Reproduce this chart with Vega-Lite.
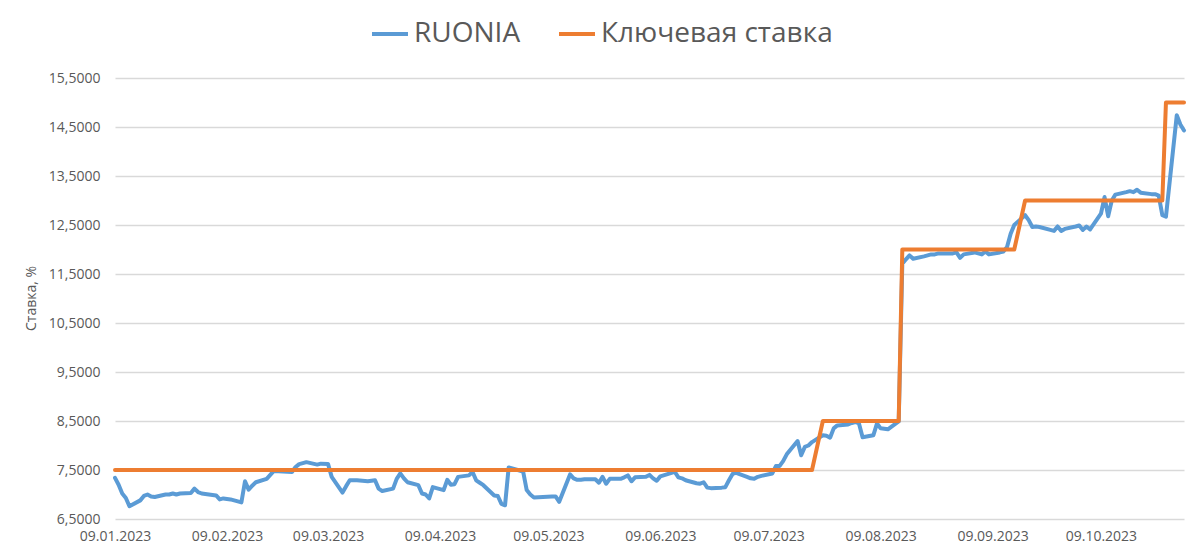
{
  "$schema": "https://vega.github.io/schema/vega-lite/v6.json",
  "width": 1069,
  "height": 441,
  "autosize": {"type": "none"},
  "padding": {"left": 115, "top": 78, "right": 16, "bottom": 38},
  "background": "white",
  "config": {
    "view": {"stroke": null},
    "font": "Open Sans"
  },
  "datasets": {
    "ruonia": [
      {"date": "2023-01-09", "value": 7.34}, {"date": "2023-01-10", "value": 7.2}, {"date": "2023-01-11", "value": 7.02},
      {"date": "2023-01-12", "value": 6.93}, {"date": "2023-01-13", "value": 6.76}, {"date": "2023-01-16", "value": 6.88},
      {"date": "2023-01-17", "value": 6.97}, {"date": "2023-01-18", "value": 7.0}, {"date": "2023-01-19", "value": 6.96},
      {"date": "2023-01-20", "value": 6.95}, {"date": "2023-01-23", "value": 7.0}, {"date": "2023-01-24", "value": 7.0},
      {"date": "2023-01-25", "value": 7.02}, {"date": "2023-01-26", "value": 7.0}, {"date": "2023-01-27", "value": 7.02},
      {"date": "2023-01-30", "value": 7.03}, {"date": "2023-01-31", "value": 7.12}, {"date": "2023-02-01", "value": 7.05},
      {"date": "2023-02-02", "value": 7.02}, {"date": "2023-02-03", "value": 7.01}, {"date": "2023-02-06", "value": 6.98},
      {"date": "2023-02-07", "value": 6.9}, {"date": "2023-02-08", "value": 6.92}, {"date": "2023-02-09", "value": 6.91},
      {"date": "2023-02-10", "value": 6.9}, {"date": "2023-02-13", "value": 6.84}, {"date": "2023-02-14", "value": 7.27},
      {"date": "2023-02-15", "value": 7.1}, {"date": "2023-02-16", "value": 7.18}, {"date": "2023-02-17", "value": 7.25},
      {"date": "2023-02-20", "value": 7.32}, {"date": "2023-02-21", "value": 7.4}, {"date": "2023-02-22", "value": 7.48},
      {"date": "2023-02-27", "value": 7.46}, {"date": "2023-02-28", "value": 7.56}, {"date": "2023-03-01", "value": 7.62},
      {"date": "2023-03-02", "value": 7.64}, {"date": "2023-03-03", "value": 7.66}, {"date": "2023-03-06", "value": 7.61},
      {"date": "2023-03-07", "value": 7.63}, {"date": "2023-03-09", "value": 7.62}, {"date": "2023-03-10", "value": 7.36},
      {"date": "2023-03-13", "value": 7.04}, {"date": "2023-03-14", "value": 7.17}, {"date": "2023-03-15", "value": 7.29},
      {"date": "2023-03-16", "value": 7.29}, {"date": "2023-03-17", "value": 7.29}, {"date": "2023-03-20", "value": 7.27},
      {"date": "2023-03-21", "value": 7.28}, {"date": "2023-03-22", "value": 7.29}, {"date": "2023-03-23", "value": 7.12},
      {"date": "2023-03-24", "value": 7.07}, {"date": "2023-03-27", "value": 7.12}, {"date": "2023-03-28", "value": 7.32},
      {"date": "2023-03-29", "value": 7.43}, {"date": "2023-03-30", "value": 7.33}, {"date": "2023-03-31", "value": 7.25},
      {"date": "2023-04-03", "value": 7.19}, {"date": "2023-04-04", "value": 7.02}, {"date": "2023-04-05", "value": 7.0},
      {"date": "2023-04-06", "value": 6.92}, {"date": "2023-04-07", "value": 7.15}, {"date": "2023-04-10", "value": 7.09},
      {"date": "2023-04-11", "value": 7.3}, {"date": "2023-04-12", "value": 7.2}, {"date": "2023-04-13", "value": 7.21},
      {"date": "2023-04-14", "value": 7.36}, {"date": "2023-04-17", "value": 7.39}, {"date": "2023-04-18", "value": 7.46},
      {"date": "2023-04-19", "value": 7.29}, {"date": "2023-04-20", "value": 7.24}, {"date": "2023-04-21", "value": 7.19},
      {"date": "2023-04-24", "value": 6.98}, {"date": "2023-04-25", "value": 6.97}, {"date": "2023-04-26", "value": 6.81},
      {"date": "2023-04-27", "value": 6.78}, {"date": "2023-04-28", "value": 7.55}, {"date": "2023-05-02", "value": 7.47},
      {"date": "2023-05-03", "value": 7.09}, {"date": "2023-05-04", "value": 7.0}, {"date": "2023-05-05", "value": 6.94},
      {"date": "2023-05-10", "value": 6.96}, {"date": "2023-05-11", "value": 6.96}, {"date": "2023-05-12", "value": 6.85},
      {"date": "2023-05-15", "value": 7.41}, {"date": "2023-05-16", "value": 7.33}, {"date": "2023-05-17", "value": 7.3},
      {"date": "2023-05-18", "value": 7.3}, {"date": "2023-05-19", "value": 7.31}, {"date": "2023-05-22", "value": 7.31},
      {"date": "2023-05-23", "value": 7.24}, {"date": "2023-05-24", "value": 7.36}, {"date": "2023-05-25", "value": 7.22},
      {"date": "2023-05-26", "value": 7.32}, {"date": "2023-05-29", "value": 7.32}, {"date": "2023-05-30", "value": 7.35},
      {"date": "2023-05-31", "value": 7.39}, {"date": "2023-06-01", "value": 7.27}, {"date": "2023-06-02", "value": 7.35},
      {"date": "2023-06-05", "value": 7.36}, {"date": "2023-06-06", "value": 7.4}, {"date": "2023-06-07", "value": 7.33},
      {"date": "2023-06-08", "value": 7.28}, {"date": "2023-06-09", "value": 7.37}, {"date": "2023-06-13", "value": 7.46},
      {"date": "2023-06-14", "value": 7.35}, {"date": "2023-06-15", "value": 7.33}, {"date": "2023-06-16", "value": 7.29},
      {"date": "2023-06-19", "value": 7.23}, {"date": "2023-06-20", "value": 7.22}, {"date": "2023-06-21", "value": 7.25},
      {"date": "2023-06-22", "value": 7.14}, {"date": "2023-06-23", "value": 7.13}, {"date": "2023-06-26", "value": 7.14},
      {"date": "2023-06-27", "value": 7.15}, {"date": "2023-06-28", "value": 7.29}, {"date": "2023-06-29", "value": 7.42},
      {"date": "2023-06-30", "value": 7.44}, {"date": "2023-07-03", "value": 7.36}, {"date": "2023-07-04", "value": 7.33},
      {"date": "2023-07-05", "value": 7.32}, {"date": "2023-07-06", "value": 7.36}, {"date": "2023-07-07", "value": 7.38},
      {"date": "2023-07-10", "value": 7.43}, {"date": "2023-07-11", "value": 7.58}, {"date": "2023-07-12", "value": 7.58},
      {"date": "2023-07-13", "value": 7.68}, {"date": "2023-07-14", "value": 7.82}, {"date": "2023-07-17", "value": 8.09},
      {"date": "2023-07-18", "value": 7.8}, {"date": "2023-07-19", "value": 7.97}, {"date": "2023-07-20", "value": 8.0},
      {"date": "2023-07-21", "value": 8.07}, {"date": "2023-07-24", "value": 8.21}, {"date": "2023-07-25", "value": 8.2},
      {"date": "2023-07-26", "value": 8.16}, {"date": "2023-07-27", "value": 8.35}, {"date": "2023-07-28", "value": 8.41},
      {"date": "2023-07-31", "value": 8.43}, {"date": "2023-08-01", "value": 8.46}, {"date": "2023-08-02", "value": 8.48},
      {"date": "2023-08-03", "value": 8.45}, {"date": "2023-08-04", "value": 8.17}, {"date": "2023-08-07", "value": 8.21},
      {"date": "2023-08-08", "value": 8.45}, {"date": "2023-08-09", "value": 8.35}, {"date": "2023-08-10", "value": 8.34},
      {"date": "2023-08-11", "value": 8.33}, {"date": "2023-08-14", "value": 8.49}, {"date": "2023-08-15", "value": 11.71},
      {"date": "2023-08-16", "value": 11.8}, {"date": "2023-08-17", "value": 11.88}, {"date": "2023-08-18", "value": 11.81},
      {"date": "2023-08-21", "value": 11.86}, {"date": "2023-08-22", "value": 11.88}, {"date": "2023-08-23", "value": 11.9},
      {"date": "2023-08-24", "value": 11.9}, {"date": "2023-08-25", "value": 11.92}, {"date": "2023-08-28", "value": 11.92},
      {"date": "2023-08-29", "value": 11.92}, {"date": "2023-08-30", "value": 11.94}, {"date": "2023-08-31", "value": 11.83},
      {"date": "2023-09-01", "value": 11.9}, {"date": "2023-09-04", "value": 11.94}, {"date": "2023-09-05", "value": 11.92},
      {"date": "2023-09-06", "value": 11.9}, {"date": "2023-09-07", "value": 11.96}, {"date": "2023-09-08", "value": 11.9},
      {"date": "2023-09-11", "value": 11.94}, {"date": "2023-09-12", "value": 11.96}, {"date": "2023-09-13", "value": 12.05},
      {"date": "2023-09-14", "value": 12.32}, {"date": "2023-09-15", "value": 12.5}, {"date": "2023-09-18", "value": 12.7},
      {"date": "2023-09-19", "value": 12.6}, {"date": "2023-09-20", "value": 12.46}, {"date": "2023-09-21", "value": 12.47},
      {"date": "2023-09-22", "value": 12.46}, {"date": "2023-09-25", "value": 12.4}, {"date": "2023-09-26", "value": 12.38},
      {"date": "2023-09-27", "value": 12.47}, {"date": "2023-09-28", "value": 12.38}, {"date": "2023-09-29", "value": 12.42},
      {"date": "2023-10-02", "value": 12.47}, {"date": "2023-10-03", "value": 12.49}, {"date": "2023-10-04", "value": 12.4},
      {"date": "2023-10-05", "value": 12.47}, {"date": "2023-10-06", "value": 12.41}, {"date": "2023-10-09", "value": 12.73},
      {"date": "2023-10-10", "value": 13.07}, {"date": "2023-10-11", "value": 12.68}, {"date": "2023-10-12", "value": 13.0},
      {"date": "2023-10-13", "value": 13.12}, {"date": "2023-10-16", "value": 13.17}, {"date": "2023-10-17", "value": 13.19},
      {"date": "2023-10-18", "value": 13.17}, {"date": "2023-10-19", "value": 13.22}, {"date": "2023-10-20", "value": 13.16},
      {"date": "2023-10-23", "value": 13.13}, {"date": "2023-10-24", "value": 13.13}, {"date": "2023-10-25", "value": 13.1},
      {"date": "2023-10-26", "value": 12.7}, {"date": "2023-10-27", "value": 12.67}, {"date": "2023-10-30", "value": 14.74},
      {"date": "2023-10-31", "value": 14.55}, {"date": "2023-11-01", "value": 14.43}
    ],
    "key": [
      {"date": "2023-01-09", "value": 7.5}, {"date": "2023-07-21", "value": 7.5},
      {"date": "2023-07-24", "value": 8.5}, {"date": "2023-08-14", "value": 8.5},
      {"date": "2023-08-15", "value": 12.0}, {"date": "2023-09-15", "value": 12.0},
      {"date": "2023-09-18", "value": 13.0}, {"date": "2023-10-26", "value": 13.0},
      {"date": "2023-10-27", "value": 15.0}, {"date": "2023-11-01", "value": 15.0}
    ]
  },
  "layer": [
    {
      "data": {"name": "ruonia"},
      "transform": [{"calculate": "'RUONIA'", "as": "series"}],
      "mark": {"type": "line", "strokeWidth": 4, "strokeJoin": "round", "strokeCap": "round"},
      "encoding": {
        "x": {
          "field": "date", "type": "temporal",
          "scale": {"type": "utc", "domain": [{"year": 2023, "month": 1, "date": 9, "utc": true}, {"year": 2023, "month": 11, "date": 1, "utc": true}]},
          "axis": {
            "title": null, "grid": false, "domain": false, "ticks": false,
            "values": [
              {"year": 2023, "month": 1, "date": 9, "utc": true}, {"year": 2023, "month": 2, "date": 9, "utc": true},
              {"year": 2023, "month": 3, "date": 9, "utc": true}, {"year": 2023, "month": 4, "date": 9, "utc": true},
              {"year": 2023, "month": 5, "date": 9, "utc": true}, {"year": 2023, "month": 6, "date": 9, "utc": true},
              {"year": 2023, "month": 7, "date": 9, "utc": true}, {"year": 2023, "month": 8, "date": 9, "utc": true},
              {"year": 2023, "month": 9, "date": 9, "utc": true}, {"year": 2023, "month": 10, "date": 9, "utc": true}
            ],
            "labelExpr": "utcFormat(datum.value, '%d.%m.%Y')",
            "labelFont": "Open Sans", "labelFontSize": 14, "labelColor": "#595959",
            "labelPadding": 10, "labelOverlap": false, "labelFlush": false
          }
        },
        "y": {
          "field": "value", "type": "quantitative",
          "scale": {"domain": [6.5, 15.5], "nice": false, "zero": false},
          "axis": {
            "title": "Ставка, %", "titleFont": "Open Sans", "titleFontSize": 14, "titleFontWeight": "normal",
            "titleColor": "#595959", "titleX": -84, "titleY": 220, "titleAngle": -90, "titleAlign": "center", "titleBaseline": "middle",
            "values": [6.5, 7.5, 8.5, 9.5, 10.5, 11.5, 12.5, 13.5, 14.5, 15.5],
            "labelExpr": "replace(format(datum.value, '.4f'), '.', ',')",
            "labelFont": "Open Sans", "labelFontSize": 14, "labelColor": "#595959",
            "labelPadding": 15, "domain": false, "ticks": false,
            "grid": true, "gridColor": "#d9d9d9", "gridWidth": 1.5
          }
        },
        "color": {
          "field": "series", "type": "nominal",
          "scale": {"domain": ["RUONIA", "Ключевая ставка"], "range": ["#5B9BD5", "#ED7D31"]},
          "legend": {
            "title": null, "orient": "none", "legendX": 255, "legendY": -64, "direction": "horizontal",
            "symbolType": "stroke", "symbolSize": 1296, "symbolStrokeWidth": 4,
            "labelFont": "Open Sans", "labelFontSize": 28, "labelColor": "#595959",
            "labelOffset": 4, "columnPadding": 30, "labelLimit": 0
          }
        }
      }
    },
    {
      "data": {"name": "key"},
      "transform": [{"calculate": "'Ключевая ставка'", "as": "series"}],
      "mark": {"type": "line", "strokeWidth": 4, "strokeJoin": "round", "strokeCap": "round"},
      "encoding": {
        "x": {"field": "date", "type": "temporal"},
        "y": {"field": "value", "type": "quantitative"},
        "color": {"field": "series", "type": "nominal"}
      }
    }
  ]
}
